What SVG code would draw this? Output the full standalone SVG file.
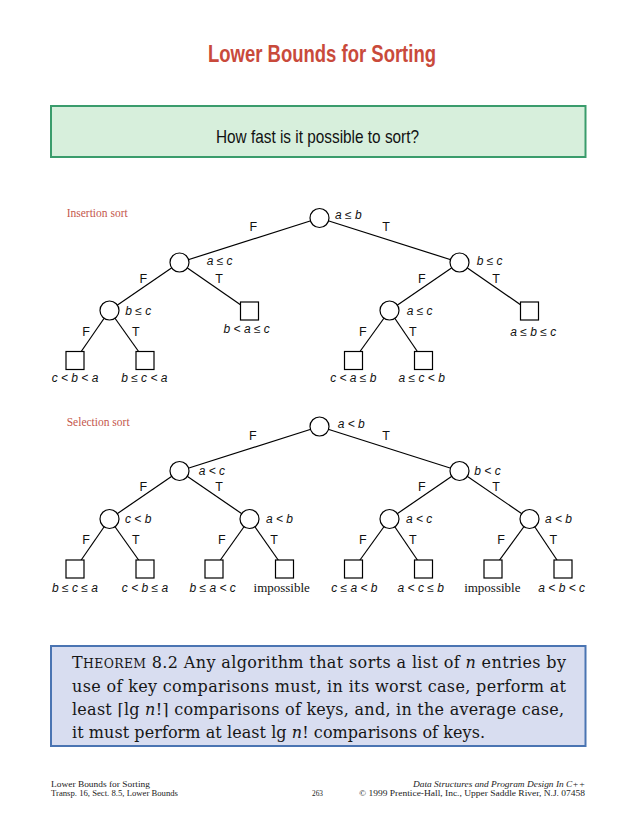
<svg xmlns="http://www.w3.org/2000/svg" width="638" height="826" viewBox="0 0 638 826">
<style>
.edge{stroke:#000;stroke-width:1.2;fill:none}
.nd{fill:#fff;stroke:#000;stroke-width:1.2}
.m{font-family:"Liberation Sans",Arial,sans-serif;font-style:italic;font-size:12px;fill:#111}
.ft{font-family:"Liberation Sans",Arial,sans-serif;font-size:12.5px;fill:#111;text-anchor:middle}
.lf{text-anchor:middle}
.imp{font-family:"Liberation Serif","Times New Roman",serif;font-size:13px;fill:#111;text-anchor:middle}
.sec{font-family:"Liberation Serif","Times New Roman",serif;font-size:11.5px;fill:#c4574c}
.thm{font-family:"DejaVu Serif","Liberation Serif",serif;font-size:16px;fill:#161616}
.foot{font-family:"Liberation Serif","Times New Roman",serif;font-size:9px;fill:#222}
</style>
<rect width="638" height="826" fill="#fff"/>
<g id="title">
<text x="322" y="62" text-anchor="middle" textLength="228" lengthAdjust="spacingAndGlyphs" font-family="'Liberation Sans',Arial,sans-serif" font-weight="bold" font-size="24" fill="#c94a3b">Lower Bounds for Sorting</text>
</g>
<g id="question">
<rect x="51" y="106" width="534.5" height="51" fill="#d7efdc" stroke="#3a9c6c" stroke-width="2"/>
<text x="317.5" y="143" text-anchor="middle" textLength="203" lengthAdjust="spacingAndGlyphs" font-family="'Liberation Sans',Arial,sans-serif" font-size="18.5" fill="#111">How fast is it possible to sort?</text>
</g>
<text class="sec" x="66.7" y="217.3">Insertion sort</text>
<text class="sec" x="66.7" y="426">Selection sort</text>
<g id="connectors">
<line class="edge" x1="319.5" y1="218" x2="179.5" y2="262.5"/>
<line class="edge" x1="319.5" y1="218" x2="459.5" y2="262.5"/>
<line class="edge" x1="179.5" y1="262.5" x2="109.5" y2="310.5"/>
<line class="edge" x1="179.5" y1="262.5" x2="249.5" y2="311"/>
<line class="edge" x1="459.5" y1="262.5" x2="389.5" y2="310.5"/>
<line class="edge" x1="459.5" y1="262.5" x2="529.5" y2="311"/>
<line class="edge" x1="109.5" y1="310.5" x2="75" y2="360.5"/>
<line class="edge" x1="109.5" y1="310.5" x2="145" y2="360.5"/>
<line class="edge" x1="389.5" y1="310.5" x2="353.5" y2="360.5"/>
<line class="edge" x1="389.5" y1="310.5" x2="423.5" y2="360.5"/>
<line class="edge" x1="319.5" y1="426.5" x2="179.5" y2="471"/>
<line class="edge" x1="319.5" y1="426.5" x2="459.5" y2="471"/>
<line class="edge" x1="179.5" y1="471" x2="109.5" y2="519"/>
<line class="edge" x1="179.5" y1="471" x2="249.5" y2="519"/>
<line class="edge" x1="459.5" y1="471" x2="389.5" y2="519"/>
<line class="edge" x1="459.5" y1="471" x2="529.5" y2="519"/>
<line class="edge" x1="109.5" y1="519" x2="75" y2="569"/>
<line class="edge" x1="109.5" y1="519" x2="145" y2="569"/>
<line class="edge" x1="249.5" y1="519" x2="214" y2="569"/>
<line class="edge" x1="249.5" y1="519" x2="284.5" y2="569"/>
<line class="edge" x1="389.5" y1="519" x2="353.5" y2="569"/>
<line class="edge" x1="389.5" y1="519" x2="423.5" y2="569"/>
<line class="edge" x1="529.5" y1="519" x2="493" y2="569"/>
<line class="edge" x1="529.5" y1="519" x2="563" y2="569"/>
<text class="ft" x="253.3" y="231">F</text><text class="ft" x="386" y="231">T</text>
<text class="ft" x="143.3" y="282.5">F</text><text class="ft" x="219" y="283">T</text>
<text class="ft" x="421.7" y="282.5">F</text><text class="ft" x="496" y="283">T</text>
<text class="ft" x="86" y="335.5">F</text><text class="ft" x="135.7" y="335.5">T</text>
<text class="ft" x="362.7" y="335.5">F</text><text class="ft" x="412.7" y="335.5">T</text>
<text class="ft" x="252.7" y="440">F</text><text class="ft" x="386" y="440">T</text>
<text class="ft" x="143.3" y="491">F</text><text class="ft" x="219" y="491">T</text>
<text class="ft" x="421.7" y="491">F</text><text class="ft" x="496" y="491">T</text>
<text class="ft" x="86" y="544">F</text><text class="ft" x="135.7" y="544">T</text>
<text class="ft" x="221.7" y="544">F</text><text class="ft" x="274" y="544">T</text>
<text class="ft" x="362.7" y="544">F</text><text class="ft" x="412.7" y="544">T</text>
<text class="ft" x="501" y="544">F</text><text class="ft" x="553.3" y="544">T</text>
</g>
<g id="ins-root"><circle class="nd" cx="319.5" cy="218" r="9.5"/><text class="m" x="335" y="218.5">a ≤ b</text></g>
<g id="ins-ac"><circle class="nd" cx="179.5" cy="262.5" r="9.5"/><text class="m" x="206.7" y="264.5">a ≤ c</text></g>
<g id="ins-bc-r"><circle class="nd" cx="459.5" cy="262.5" r="9.5"/><text class="m" x="476.7" y="264.5">b ≤ c</text></g>
<g id="ins-bc-l"><circle class="nd" cx="109.5" cy="310.5" r="9.5"/><text class="m" x="125.3" y="314.5">b ≤ c</text></g>
<g id="ins-leaf-bac"><rect class="nd" x="240.5" y="302" width="18" height="18"/><text class="m lf" x="246.7" y="333">b &lt; a ≤ c</text></g>
<g id="ins-ac-r"><circle class="nd" cx="389.5" cy="310.5" r="9.5"/><text class="m" x="406.7" y="314.5">a ≤ c</text></g>
<g id="ins-leaf-abc"><rect class="nd" x="520.5" y="302" width="18" height="18"/><text class="m lf" x="533.3" y="335.5">a ≤ b ≤ c</text></g>
<g id="ins-leaf-cba"><rect class="nd" x="66" y="351.5" width="18" height="18"/><text class="m lf" x="75" y="382">c &lt; b &lt; a</text></g>
<g id="ins-leaf-bca"><rect class="nd" x="136" y="351.5" width="18" height="18"/><text class="m lf" x="144.3" y="382">b ≤ c &lt; a</text></g>
<g id="ins-leaf-cab"><rect class="nd" x="344.5" y="351.5" width="18" height="18"/><text class="m lf" x="353.3" y="382">c &lt; a ≤ b</text></g>
<g id="ins-leaf-acb"><rect class="nd" x="414.5" y="351.5" width="18" height="18"/><text class="m lf" x="421.7" y="382">a ≤ c &lt; b</text></g>
<g id="sel-root"><circle class="nd" cx="319.5" cy="426.5" r="9.5"/><text class="m" x="337.7" y="427.5">a &lt; b</text></g>
<g id="sel-ac"><circle class="nd" cx="179.5" cy="471" r="9.5"/><text class="m" x="198.7" y="474.5">a &lt; c</text></g>
<g id="sel-bc"><circle class="nd" cx="459.5" cy="471" r="9.5"/><text class="m" x="474.3" y="474.5">b &lt; c</text></g>
<g id="sel-cb"><circle class="nd" cx="109.5" cy="519" r="9.5"/><text class="m" x="125" y="523">c &lt; b</text></g>
<g id="sel-ab-l"><circle class="nd" cx="249.5" cy="519" r="9.5"/><text class="m" x="266" y="523">a &lt; b</text></g>
<g id="sel-ac-r"><circle class="nd" cx="389.5" cy="519" r="9.5"/><text class="m" x="406" y="523">a &lt; c</text></g>
<g id="sel-ab-r"><circle class="nd" cx="529.5" cy="519" r="9.5"/><text class="m" x="545" y="523">a &lt; b</text></g>
<g id="sel-leaf1"><rect class="nd" x="66" y="560" width="18" height="18"/><text class="m lf" x="75" y="592">b ≤ c ≤ a</text></g>
<g id="sel-leaf2"><rect class="nd" x="136" y="560" width="18" height="18"/><text class="m lf" x="145" y="592">c &lt; b ≤ a</text></g>
<g id="sel-leaf3"><rect class="nd" x="205" y="560" width="18" height="18"/><text class="m lf" x="212.7" y="592">b ≤ a &lt; c</text></g>
<g id="sel-leaf4"><rect class="nd" x="275.5" y="560" width="18" height="18"/><text class="imp" x="281.7" y="592">impossible</text></g>
<g id="sel-leaf5"><rect class="nd" x="344.5" y="560" width="18" height="18"/><text class="m lf" x="354.3" y="592">c ≤ a &lt; b</text></g>
<g id="sel-leaf6"><rect class="nd" x="414.5" y="560" width="18" height="18"/><text class="m lf" x="420.7" y="592">a &lt; c ≤ b</text></g>
<g id="sel-leaf7"><rect class="nd" x="484" y="560" width="18" height="18"/><text class="imp" x="492.3" y="592">impossible</text></g>
<g id="sel-leaf8"><rect class="nd" x="554" y="560" width="18" height="18"/><text class="m lf" x="561.7" y="592">a &lt; b &lt; c</text></g>
<g id="theorem">
<rect x="51" y="646" width="534.5" height="100" fill="#d8ddf0" stroke="#4a74b2" stroke-width="2"/>
<text class="thm" x="72" y="668" textLength="494" lengthAdjust="spacing">T<tspan font-size="12.4">HEOREM</tspan> 8.2 Any algorithm that sorts a list of <tspan font-style="italic">n</tspan> entries by</text>
<text class="thm" x="72" y="691.5" textLength="494" lengthAdjust="spacing">use of key comparisons must, in its worst case, perform at</text>
<text class="thm" x="72" y="715" textLength="492" lengthAdjust="spacing">least ⌈lg <tspan font-style="italic">n</tspan>!⌉ comparisons of keys, and, in the average case,</text>
<text class="thm" x="72" y="738" textLength="413" lengthAdjust="spacing">it must perform at least lg <tspan font-style="italic">n</tspan>! comparisons of keys.</text>
</g>
<g id="footer">
<text class="foot" x="51" y="786.5" textLength="99" lengthAdjust="spacingAndGlyphs">Lower Bounds for Sorting</text>
<text class="foot" x="51" y="796" textLength="127" lengthAdjust="spacingAndGlyphs">Transp. 16, Sect. 8.5, Lower Bounds</text>
<text class="foot" x="312" y="796" textLength="11" lengthAdjust="spacingAndGlyphs">263</text>
<text class="foot" x="585" y="786.5" text-anchor="end" font-style="italic" textLength="172" lengthAdjust="spacingAndGlyphs">Data Structures and Program Design In C++</text>
<text class="foot" x="585" y="796" text-anchor="end" textLength="226" lengthAdjust="spacingAndGlyphs">© 1999 Prentice-Hall, Inc., Upper Saddle River, N.J. 07458</text>
</g>
</svg>
